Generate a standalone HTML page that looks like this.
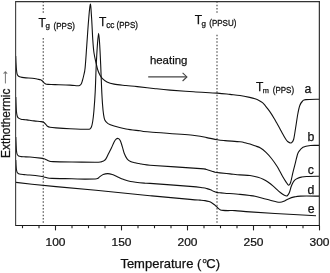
<!DOCTYPE html>
<html><head><meta charset="utf-8"><style>
html,body{margin:0;padding:0;background:#fff;width:330px;height:273px;overflow:hidden}
svg{display:block}
text{font-family:"Liberation Sans",Arial,sans-serif;fill:#111;stroke:#111;stroke-width:0.25px}
</style></head><body>
<svg width="330" height="273" viewBox="0 0 330 273">
<rect x="0" y="0" width="330" height="273" fill="#fff"/>
<g stroke="#6a6a6a" stroke-width="1.4" stroke-dasharray="1.5 1.833" fill="none">
<line x1="43.3" y1="1.35" x2="43.3" y2="13.2"/><line x1="43.3" y1="38.01" x2="43.3" y2="224.5"/>
<line x1="217" y1="1.35" x2="217" y2="13.2"/><line x1="217" y1="34.68" x2="217" y2="224.5"/>
</g>
<g fill="none" stroke="#111" stroke-width="1.1" stroke-linejoin="round">
<path d="M15.70,56.00 C15.75,57.17 15.87,60.67 16.00,63.00 C16.13,65.33 16.33,68.23 16.50,70.00 C16.67,71.77 16.77,72.67 17.00,73.60 C17.23,74.53 17.47,75.07 17.90,75.60 C18.33,76.13 18.92,76.50 19.60,76.80 C20.28,77.10 20.93,77.22 22.00,77.40 C23.07,77.58 24.28,77.75 26.00,77.90 C27.72,78.05 30.33,78.08 32.30,78.30 C34.27,78.52 36.43,78.95 37.80,79.20 C39.17,79.45 39.73,79.50 40.50,79.80 C41.27,80.10 41.82,80.50 42.40,81.00 C42.98,81.50 43.47,82.30 44.00,82.80 C44.53,83.30 44.93,83.73 45.60,84.00 C46.27,84.27 46.43,84.30 48.00,84.40 C49.57,84.50 51.33,84.48 55.00,84.60 C58.67,84.72 66.33,84.92 70.00,85.10 C73.67,85.28 75.40,85.63 77.00,85.70 C78.60,85.77 78.90,85.78 79.60,85.50 C80.30,85.22 80.75,84.75 81.20,84.00 C81.65,83.25 81.90,82.33 82.30,81.00 C82.70,79.67 83.13,78.17 83.60,76.00 C84.07,73.83 84.57,73.17 85.10,68.00 C85.63,62.83 86.22,53.00 86.80,45.00 C87.38,37.00 88.02,26.80 88.60,20.00 C89.18,13.20 89.80,4.53 90.30,4.20 C90.80,3.87 91.18,12.03 91.60,18.00 C92.02,23.97 92.40,34.17 92.80,40.00 C93.20,45.83 93.42,49.00 94.00,53.00 C94.58,57.00 95.67,61.17 96.30,64.00 C96.93,66.83 97.22,68.20 97.80,70.00 C98.38,71.80 99.07,73.42 99.80,74.80 C100.53,76.18 101.00,77.12 102.20,78.30 C103.40,79.48 105.02,80.93 107.00,81.90 C108.98,82.87 110.93,83.50 114.10,84.10 C117.27,84.70 122.13,85.08 126.00,85.50 C129.87,85.92 132.38,86.07 137.30,86.60 C142.22,87.13 150.05,88.12 155.50,88.70 C160.95,89.28 163.65,89.58 170.00,90.10 C176.35,90.62 185.72,91.30 193.60,91.80 C201.48,92.30 211.23,92.67 217.30,93.10 C223.37,93.53 226.22,94.00 230.00,94.40 C233.78,94.80 236.72,95.00 240.00,95.50 C243.28,96.00 247.20,96.85 249.70,97.40 C252.20,97.95 253.38,98.25 255.00,98.80 C256.62,99.35 258.15,100.05 259.40,100.70 C260.65,101.35 261.53,101.88 262.50,102.70 C263.47,103.52 264.28,104.52 265.20,105.60 C266.12,106.68 267.03,107.90 268.00,109.20 C268.97,110.50 270.00,111.90 271.00,113.40 C272.00,114.90 273.03,116.58 274.00,118.20 C274.97,119.82 275.83,121.40 276.80,123.10 C277.77,124.80 278.83,126.63 279.80,128.40 C280.77,130.17 281.70,132.05 282.60,133.70 C283.50,135.35 284.37,137.00 285.20,138.30 C286.03,139.60 286.60,140.72 287.60,141.50 C288.60,142.28 290.20,143.33 291.20,143.00 C292.20,142.67 292.87,142.00 293.60,139.50 C294.33,137.00 294.90,132.25 295.60,128.00 C296.30,123.75 297.10,117.75 297.80,114.00 C298.50,110.25 299.00,107.67 299.80,105.50 C300.60,103.33 301.60,101.98 302.60,101.00 C303.60,100.02 303.07,99.90 305.80,99.60 C308.53,99.30 316.80,99.27 319.00,99.20"/>
<path d="M15.80,97.00 C15.85,98.33 15.98,102.50 16.10,105.00 C16.22,107.50 16.32,110.17 16.50,112.00 C16.68,113.83 16.85,114.97 17.20,116.00 C17.55,117.03 17.97,117.67 18.60,118.20 C19.23,118.73 20.10,118.97 21.00,119.20 C21.90,119.43 23.00,119.48 24.00,119.60 C25.00,119.72 25.33,119.68 27.00,119.90 C28.67,120.12 31.67,120.62 34.00,120.90 C36.33,121.18 39.42,121.37 41.00,121.60 C42.58,121.83 42.75,121.90 43.50,122.30 C44.25,122.70 44.83,123.33 45.50,124.00 C46.17,124.67 46.75,125.75 47.50,126.30 C48.25,126.85 48.58,127.03 50.00,127.30 C51.42,127.57 52.67,127.67 56.00,127.90 C59.33,128.13 64.83,128.47 70.00,128.70 C75.17,128.93 83.68,129.27 87.00,129.30 C90.32,129.33 89.17,129.28 89.90,128.90 C90.63,128.52 90.93,128.23 91.40,127.00 C91.87,125.77 92.28,124.17 92.70,121.50 C93.12,118.83 93.48,115.92 93.90,111.00 C94.32,106.08 94.82,99.50 95.20,92.00 C95.58,84.50 95.83,73.83 96.20,66.00 C96.57,58.17 97.00,50.47 97.40,45.00 C97.80,39.53 98.22,33.20 98.60,33.20 C98.98,33.20 99.35,39.70 99.70,45.00 C100.05,50.30 100.38,57.83 100.70,65.00 C101.02,72.17 101.30,81.50 101.60,88.00 C101.90,94.50 102.18,99.67 102.50,104.00 C102.82,108.33 103.12,111.33 103.50,114.00 C103.88,116.67 104.05,118.40 104.80,120.00 C105.55,121.60 106.45,122.60 108.00,123.60 C109.55,124.60 111.10,125.10 114.10,126.00 C117.10,126.90 121.68,128.20 126.00,129.00 C130.32,129.80 136.00,130.30 140.00,130.80 C144.00,131.30 140.92,131.22 150.00,132.00 C159.08,132.78 185.05,134.57 194.50,135.50 C203.95,136.43 202.90,136.90 206.70,137.60 C210.50,138.30 214.25,139.20 217.30,139.70 C220.35,140.20 221.22,140.25 225.00,140.60 C228.78,140.95 236.67,141.45 240.00,141.80 C243.33,142.15 243.33,142.33 245.00,142.70 C246.67,143.07 248.33,143.48 250.00,144.00 C251.67,144.52 253.25,145.13 255.00,145.80 C256.75,146.47 258.67,146.90 260.50,148.00 C262.33,149.10 264.17,150.65 266.00,152.40 C267.83,154.15 269.67,156.20 271.50,158.50 C273.33,160.80 275.63,164.10 277.00,166.20 C278.37,168.30 278.78,169.43 279.70,171.10 C280.62,172.77 281.48,174.45 282.50,176.20 C283.52,177.95 284.78,180.10 285.80,181.60 C286.82,183.10 287.80,185.05 288.60,185.20 C289.40,185.35 289.87,184.68 290.60,182.50 C291.33,180.32 292.18,175.45 293.00,172.10 C293.82,168.75 294.80,165.17 295.50,162.40 C296.20,159.63 296.67,157.28 297.20,155.50 C297.73,153.72 297.73,153.07 298.70,151.70 C299.67,150.33 301.05,148.33 303.00,147.30 C304.95,146.27 307.73,145.82 310.40,145.50 C313.07,145.18 317.57,145.42 319.00,145.40"/>
<path d="M15.80,137.00 C15.85,138.17 15.98,141.67 16.10,144.00 C16.22,146.33 16.32,149.27 16.50,151.00 C16.68,152.73 16.85,153.57 17.20,154.40 C17.55,155.23 17.97,155.63 18.60,156.00 C19.23,156.37 20.10,156.47 21.00,156.60 C21.90,156.73 22.50,156.73 24.00,156.80 C25.50,156.87 27.23,156.78 30.00,157.00 C32.77,157.22 38.27,157.82 40.60,158.10 C42.93,158.38 43.02,158.42 44.00,158.70 C44.98,158.98 45.67,159.42 46.50,159.80 C47.33,160.18 47.92,160.70 49.00,161.00 C50.08,161.30 49.17,161.43 53.00,161.60 C56.83,161.77 65.00,161.90 72.00,162.00 C79.00,162.10 90.17,162.22 95.00,162.20 C99.83,162.18 99.58,162.10 101.00,161.90 C102.42,161.70 102.68,161.50 103.50,161.00 C104.32,160.50 105.05,160.15 105.90,158.90 C106.75,157.65 107.68,155.32 108.60,153.50 C109.52,151.68 110.48,149.93 111.40,148.00 C112.32,146.07 113.32,143.38 114.10,141.90 C114.88,140.42 115.42,139.68 116.10,139.10 C116.78,138.52 117.52,138.17 118.20,138.40 C118.88,138.63 119.52,139.13 120.20,140.50 C120.88,141.87 121.62,144.43 122.30,146.60 C122.98,148.77 123.50,151.45 124.30,153.50 C125.10,155.55 126.07,157.55 127.10,158.90 C128.13,160.25 129.18,160.95 130.50,161.60 C131.82,162.25 133.42,162.45 135.00,162.80 C136.58,163.15 137.50,163.30 140.00,163.70 C142.50,164.10 139.90,164.38 150.00,165.20 C160.10,166.02 191.43,167.92 200.60,168.60 C209.77,169.28 203.60,169.02 205.00,169.30 C206.40,169.58 207.83,169.98 209.00,170.30 C210.17,170.62 211.00,170.88 212.00,171.20 C213.00,171.52 213.67,171.92 215.00,172.20 C216.33,172.48 217.50,172.62 220.00,172.90 C222.50,173.18 226.67,173.57 230.00,173.90 C233.33,174.23 236.67,174.63 240.00,174.90 C243.33,175.17 247.00,175.12 250.00,175.50 C253.00,175.88 255.80,176.58 258.00,177.20 C260.20,177.82 261.48,178.35 263.20,179.20 C264.92,180.05 266.58,181.10 268.30,182.30 C270.02,183.50 271.78,184.93 273.50,186.40 C275.22,187.87 277.07,189.80 278.60,191.10 C280.13,192.40 281.53,193.42 282.70,194.20 C283.87,194.98 284.83,195.55 285.60,195.80 C286.37,196.05 286.68,196.20 287.30,195.70 C287.92,195.20 288.65,194.33 289.30,192.80 C289.95,191.27 290.58,188.23 291.20,186.50 C291.82,184.77 292.37,183.50 293.00,182.40 C293.63,181.30 294.28,180.57 295.00,179.90 C295.72,179.23 296.22,178.87 297.30,178.40 C298.38,177.93 299.95,177.42 301.50,177.10 C303.05,176.78 303.68,176.63 306.60,176.50 C309.52,176.37 316.93,176.33 319.00,176.30"/>
<path d="M15.80,160.00 C15.85,161.00 15.98,164.33 16.10,166.00 C16.22,167.67 16.32,168.93 16.50,170.00 C16.68,171.07 16.85,171.78 17.20,172.40 C17.55,173.02 17.97,173.38 18.60,173.70 C19.23,174.02 20.10,174.15 21.00,174.30 C21.90,174.45 22.57,174.48 24.00,174.60 C25.43,174.72 26.83,174.72 29.60,175.00 C32.37,175.28 38.20,175.97 40.60,176.30 C43.00,176.63 42.93,176.75 44.00,177.00 C45.07,177.25 45.67,177.57 47.00,177.80 C48.33,178.03 47.83,178.23 52.00,178.40 C56.17,178.57 66.50,178.68 72.00,178.80 C77.50,178.92 80.87,179.12 85.00,179.10 C89.13,179.08 94.38,179.07 96.80,178.70 C99.22,178.33 98.43,177.60 99.50,176.90 C100.57,176.20 101.83,175.05 103.20,174.50 C104.57,173.95 106.18,173.60 107.70,173.60 C109.22,173.60 110.63,173.95 112.30,174.50 C113.97,175.05 115.88,176.10 117.70,176.90 C119.52,177.70 121.07,178.53 123.20,179.30 C125.33,180.07 126.87,180.85 130.50,181.50 C134.13,182.15 141.75,182.88 145.00,183.20 C148.25,183.52 142.50,182.87 150.00,183.40 C157.50,183.93 181.22,185.67 190.00,186.40 C198.78,187.13 199.87,187.43 202.70,187.80 C205.53,188.17 205.70,188.27 207.00,188.60 C208.30,188.93 209.40,189.35 210.50,189.80 C211.60,190.25 212.60,190.87 213.60,191.30 C214.60,191.73 215.43,192.15 216.50,192.40 C217.57,192.65 218.62,192.67 220.00,192.80 C221.38,192.93 221.47,192.93 224.80,193.20 C228.13,193.47 235.80,194.02 240.00,194.40 C244.20,194.78 247.50,195.18 250.00,195.50 C252.50,195.82 252.90,195.85 255.00,196.30 C257.10,196.75 260.07,197.53 262.60,198.20 C265.13,198.87 267.93,199.70 270.20,200.30 C272.47,200.90 274.57,201.47 276.20,201.80 C277.83,202.13 278.73,202.38 280.00,202.30 C281.27,202.22 282.42,201.87 283.80,201.30 C285.18,200.73 286.53,199.63 288.30,198.90 C290.07,198.17 292.37,197.37 294.40,196.90 C296.43,196.43 296.40,196.23 300.50,196.10 C304.60,195.97 315.92,196.10 319.00,196.10"/>
<path d="M16.00,182.40 C18.67,182.70 25.33,183.50 32.00,184.20 C38.67,184.90 45.33,185.60 56.00,186.60 C66.67,187.60 80.33,188.68 96.00,190.20 C111.67,191.72 134.33,194.17 150.00,195.70 C165.67,197.23 181.67,198.67 190.00,199.40 C198.33,200.13 197.50,199.90 200.00,200.10 C202.50,200.30 203.50,200.35 205.00,200.60 C206.50,200.85 207.83,201.20 209.00,201.60 C210.17,202.00 211.08,202.47 212.00,203.00 C212.92,203.53 213.75,204.20 214.50,204.80 C215.25,205.40 215.83,205.97 216.50,206.60 C217.17,207.23 217.83,208.05 218.50,208.60 C219.17,209.15 219.75,209.60 220.50,209.90 C221.25,210.20 221.75,210.28 223.00,210.40 C224.25,210.52 226.00,210.57 228.00,210.60 C230.00,210.63 231.33,210.38 235.00,210.60 C238.67,210.82 243.33,211.42 250.00,211.90 C256.67,212.38 264.00,212.87 275.00,213.50 C286.00,214.13 309.17,215.33 316.00,215.70"/>
</g>
<g stroke-width="1.15" fill="none"><line x1="15" y1="1.6" x2="319.9" y2="1.6" stroke="#333"/><line x1="15" y1="225.5" x2="319.9" y2="225.5" stroke="#1a1a1a"/>
<line x1="15.6" y1="1" x2="15.6" y2="226" stroke="#444"/><line x1="319.35" y1="1" x2="319.35" y2="226" stroke="#2a2a2a"/></g>
<g stroke="#222" stroke-width="1.1"><line x1="22.50" y1="225.5" x2="22.50" y2="228.2"/><line x1="39.00" y1="225.5" x2="39.00" y2="228.2"/><line x1="55.50" y1="225.5" x2="55.50" y2="230.4"/><line x1="72.00" y1="225.5" x2="72.00" y2="228.2"/><line x1="88.50" y1="225.5" x2="88.50" y2="228.2"/><line x1="105.00" y1="225.5" x2="105.00" y2="228.2"/><line x1="121.50" y1="225.5" x2="121.50" y2="230.4"/><line x1="138.00" y1="225.5" x2="138.00" y2="228.2"/><line x1="154.50" y1="225.5" x2="154.50" y2="228.2"/><line x1="171.00" y1="225.5" x2="171.00" y2="228.2"/><line x1="187.50" y1="225.5" x2="187.50" y2="230.4"/><line x1="204.00" y1="225.5" x2="204.00" y2="228.2"/><line x1="220.50" y1="225.5" x2="220.50" y2="228.2"/><line x1="237.00" y1="225.5" x2="237.00" y2="228.2"/><line x1="253.50" y1="225.5" x2="253.50" y2="230.4"/><line x1="270.00" y1="225.5" x2="270.00" y2="228.2"/><line x1="286.50" y1="225.5" x2="286.50" y2="228.2"/><line x1="303.00" y1="225.5" x2="303.00" y2="228.2"/><line x1="319.50" y1="225.5" x2="319.50" y2="230.4"/></g>
<g font-size="12"><text transform="translate(55.50,246.2) scale(1,0.93)" text-anchor="middle">100</text><text transform="translate(121.50,246.2) scale(1,0.93)" text-anchor="middle">150</text><text transform="translate(187.50,246.2) scale(1,0.93)" text-anchor="middle">200</text><text transform="translate(253.50,246.2) scale(1,0.93)" text-anchor="middle">250</text><text transform="translate(319.50,246.2) scale(1,0.93)" text-anchor="middle">300</text></g>
<text x="120.4" y="268.4" font-size="13">Temperature (<tspan font-size="7.6" dx="1.3" dy="-5">o</tspan><tspan dx="-0.5" dy="5">C)</tspan></text>
<text transform="translate(10.2,158.0) rotate(-90)" font-size="11.9">Exthothermic</text>
<text transform="translate(7.6,83.6) rotate(-90)" font-size="8.9" style="font-family:'DejaVu Sans',sans-serif;fill:#666;stroke:#777;stroke-width:0.2px">⟶</text>
<text x="38.6" y="27" font-size="12">T</text><text x="45.6" y="28.4" font-size="8">g</text><text transform="translate(53.6,28.8) scale(1,1.15)" font-size="8">(PPS)</text>
<text x="99.1" y="26.1" font-size="12">T</text><text x="106.2" y="27.9" font-size="8.3">cc</text><text transform="translate(116.6,27.9) scale(1,1.15)" font-size="8">(PPS)</text>
<text x="194.7" y="24.2" font-size="12">T</text><text x="201.4" y="26" font-size="8">g</text><text transform="translate(209.3,25.7) scale(1,1.15)" font-size="8">(PPSU)</text>
<text x="256.1" y="91" font-size="12">T</text><text x="262.7" y="92.6" font-size="7.4">m</text><text transform="translate(272.8,92.6) scale(1,1.15)" font-size="8">(PPS)</text>
<text x="149.9" y="64.2" font-size="11.45">heating</text>
<g stroke="#444" stroke-width="1.1" fill="none"><line x1="148.2" y1="76.9" x2="186.6" y2="76.9"/><polyline points="182.6,72.8 186.9,76.9 182.6,81"/></g>
<g font-size="12.3"><text x="304.5" y="93.2">a</text><text x="307.5" y="140.9">b</text><text x="307.7" y="174">c</text><text x="307.4" y="194">d</text><text x="307.7" y="213">e</text></g>
</svg>
</body></html>
